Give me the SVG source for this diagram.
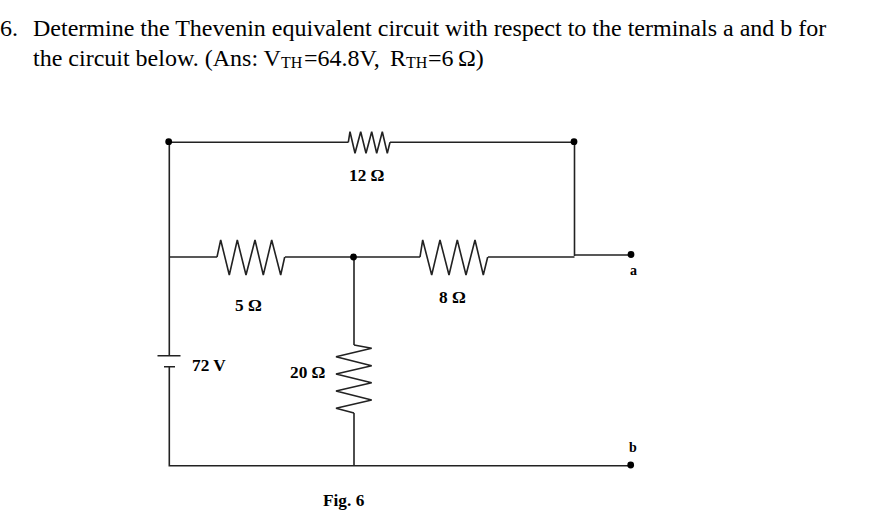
<svg xmlns="http://www.w3.org/2000/svg" width="875" height="531" viewBox="0 0 875 531">
<style>
.w{fill:none;stroke:#222;stroke-width:1.6;stroke-linejoin:miter}
.d{fill:#000}
.q{font-family:"Liberation Serif","Times New Roman",serif;font-size:24px;fill:#000}
.s{font-size:16px}
.l{font-family:"Liberation Serif","Times New Roman",serif;font-size:17.3px;font-weight:bold;fill:#000}
.t{font-size:14px}
</style>
<rect width="875" height="531" fill="#fff"/>
<g id="question">
<text class="q" x="0" y="36">6.</text>
<text class="q" x="33" y="36">Determine the Thevenin equivalent circuit with respect to the terminals a and b for</text>
<text class="q" x="33" y="66">the circuit below. (Ans: V<tspan class="s" dy="2">TH</tspan><tspan dy="-2" x="304">=64.8V,</tspan><tspan x="390">R</tspan><tspan class="s" dy="2">TH</tspan><tspan dy="-2" x="428">=6</tspan><tspan x="458">Ω)</tspan></text>
</g>
<g id="connectors">
<path class="w" d="M169.300 142.300H348.300M390 142.300H574.500V256M169.300 142.300V355.700M169.300 366.700V465.700H631M169.300 257H217M285 257H420M488 257H574.500M574.500 255H631M354 257V345M354 413V465.700"/>
</g>
<g id="R12"><path class="w" d="M348.300 142.300L350 131.700L355 153.300L360.700 131.700L366 153.300L371.700 131.700L376.700 153.300L382.300 131.700L387.300 153.300L390 142.300"/><text class="l" x="349" y="181">12 Ω</text></g>
<g id="R5"><path class="w" d="M217 257L220.700 240L229.300 275L237.300 240L246 275L255 240L263.300 275L271.700 240L280.700 275L284.700 257"/><text class="l" x="235" y="311">5 Ω</text></g>
<g id="R8"><path class="w" d="M420 257L422.700 240L431.700 275L440 240L449 275L457.300 240L466 275L475 240L483.300 275L487.700 257"/><text class="l" x="439" y="303">8 Ω</text></g>
<g id="R20"><path class="w" d="M354 345L371.700 348.300L336 356.700L371.700 365.700L336 374L371.700 382.700L336 391L371.700 400L336 408.300L354 413"/><text class="l" x="290" y="378">20 Ω</text></g>
<g id="V72"><path class="w" d="M157.500 355.700H180.500M164 366.700H175"/><text class="l" x="192" y="371">72 V</text></g>
<g id="node-tl"><circle class="d" cx="168.700" cy="141.700" r="3.400"/></g>
<g id="node-tr"><circle class="d" cx="574" cy="141.700" r="3.400"/></g>
<g id="node-mid"><circle class="d" cx="353.500" cy="257" r="3.400"/></g>
<g id="node-a"><circle class="d" cx="631" cy="254.500" r="3.400"/><text class="l t" x="630" y="275">a</text></g>
<g id="node-b"><circle class="d" cx="630.700" cy="465" r="3.400"/><text class="l t" x="629" y="452">b</text></g>
<g id="caption"><text class="l" x="323" y="506">Fig. 6</text></g>
</svg>
